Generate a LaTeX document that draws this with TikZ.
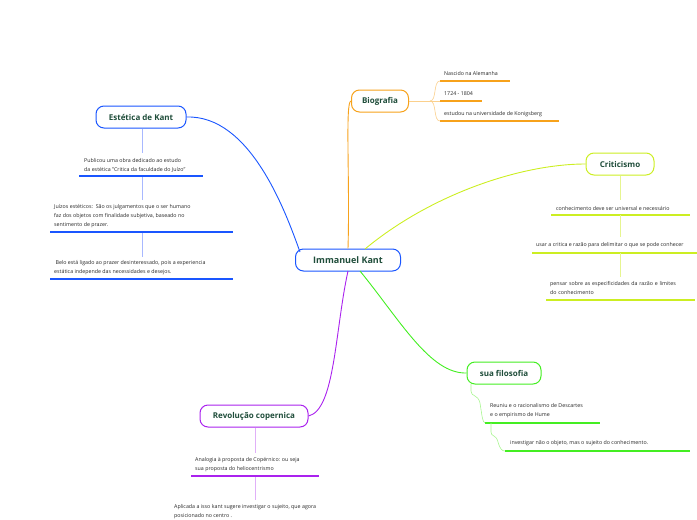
\documentclass[tikz,border=0pt]{standalone}
\usepackage{fontspec}
\setmainfont{Open Sans}
\begin{document}
\begin{tikzpicture}[x=1pt,y=-1pt,
 topic/.style={draw=#1,line width=1pt,rounded corners=8pt,fill=white,minimum height=22pt,font=\fontsize{8}{9}\selectfont\bfseries,text=titc,inner xsep=10pt},
 leaf/.style={anchor=west,font=\fontsize{5.3}{9}\selectfont,align=left,inner sep=0pt,text=black!85},
 ul/.style={draw=#1,line width=1.2pt},
 br/.style={draw=#1,line width=0.6pt}]
\definecolor{titc}{HTML}{1F4D3A}
\definecolor{cb}{HTML}{1A56FF}\definecolor{cbl}{HTML}{A8B8FF}
\definecolor{co}{HTML}{F7A21B}\definecolor{col}{HTML}{FBD08C}
\definecolor{cy}{HTML}{CCEE22}\definecolor{cyl}{HTML}{E6F590}
\definecolor{cg}{HTML}{44EE22}\definecolor{cgl}{HTML}{A8F590}
\definecolor{cp}{HTML}{AA22EE}\definecolor{cpl}{HTML}{E0B0F8}
\useasboundingbox (0,0) rectangle (697,520);
% central
\node[topic=cb,minimum width=105pt,font=\fontsize{9}{10}\selectfont\bfseries] (c) at (348,260) {Immanuel Kant};
\node[topic=co,minimum width=57pt] (bio) at (380,101) {Biografia};
\node[topic=cy,minimum width=68pt] (cri) at (620,164) {Criticismo};
\node[topic=cg,minimum width=74pt] (fil) at (504,373) {sua filosofia};
\node[topic=cp,minimum width=108pt] (rev) at (254,416) {Revolução copernica};
\node[topic=cb,minimum width=90pt] (est) at (141,117) {Estética de Kant};
\begin{scope}[on background layer/.try]
\end{scope}
\draw[co,line width=0.9pt] (c.north) ++(0,0) .. controls (350,180) and (345,101) .. (bio.west);
\draw[cy,line width=0.9pt] (365,249) .. controls (430,195) and (520,164) .. (cri.west);
\draw[cg,line width=0.9pt] (360,271) .. controls (400,320) and (430,374) .. (fil.west);
\draw[cp,line width=0.9pt] (348,271) .. controls (335,330) and (335,410) .. (rev.east);
\draw[cb,line width=0.9pt] (est.east) .. controls (250,115) and (285,210) .. (300,252);
% Biografia leaves
\node[leaf] (b1) at (444,74) {Nascido na Alemanha};
\node[leaf] (b2) at (444,94) {1724 - 1804};
\node[leaf] (b3) at (444,114) {estudou na universidade de Konigsberg};
\coordinate (b1u) at (440,81);\coordinate (b2u) at (440,101);\coordinate (b3u) at (440,121);
\draw[ul=co] (b1u) -- (510,81); \draw[ul=co] (b2u) -- (482,101); \draw[ul=co] (b3u) -- (559,121);
\coordinate (bj) at (430,101);
\draw[br=col] (bio.east) -- (bj);
\draw[br=col] (bj) .. controls (437,101) and (433,81) .. (b1u);
\draw[br=col] (bj) -- (b2u);
\draw[br=col] (bj) .. controls (437,101) and (433,121) .. (b3u);
% Criticismo leaves
\node[leaf] (k1) at (556,208) {conhecimento deve ser universal e necessário};
\node[leaf] (k2) at (536,245) {usar a critica e razão para delimitar o que se pode conhecer};
\node[leaf,text width=150pt] (k3) at (550,288) {pensar sobre as especificidades da razão e limites\\do conhecimento};
\draw[ul=cy] (551,215) -- (690,215);
\draw[ul=cy] (532,253) -- (697,253);
\draw[ul=cy] (546,300) -- (695,300);
\draw[br=cyl] (cri.south) -- (620,200);
\draw[br=cyl] (620,215) -- (620,237);
\draw[br=cyl] (620,253) -- (620,277);
% filosofia leaves
\node[leaf] (f1) at (490,411) {Reuniu e o racionalismo de Descartes\\e o empirismo de Hume};
\node[leaf] (f2) at (510,443) {investigar não o objeto, mas o sujeito do conhecimento.};
\coordinate (f1u) at (485,423);\coordinate (f2u) at (505,451);
\draw[ul=cg] (f1u) -- (600,423);
\draw[ul=cg] (f2u) -- (690,451);
\draw[br=cgl] (471,384) -- (471,391) .. controls (471,397) and (478,394) .. (480,403) -- (482,416) .. controls (483,421) and (484,423) .. (f1u);
\draw[br=cgl] (491,423) -- (491,432) .. controls (491,437) and (496,434) .. (498,442) .. controls (500,449) and (502,451) .. (f2u);
% Revolucao leaves
\node[leaf] (r1) at (195,465) {Analogia à proposta de Copérnico: ou seja\\sua proposta do heliocentrismo};
\node[leaf] (r2) at (174,512) {Aplicada a isso kant sugere investigar o sujeito, que agora\\posicionado no centro .};
\draw[ul=cp] (191,476) -- (319,476);
\draw[br=cpl] (rev.south -| 255,0) -- (255,453);
\draw[br=cpl] (255,477) -- (255,500);
% Estetica leaves
\node[leaf] (e1) at (84,165) {Publicou uma obra dedicado ao estudo\\da estética "Critica da faculdade do Juízo"};
\node[leaf] (e2) at (54,216) {Juízos estéticos:\ \ São os julgamentos que o ser humano\\faz dos objetos com finalidade subjetiva, baseado no\\sentimento de prazer.};
\node[leaf] (e3) at (54,268) {\ Belo está ligado ao prazer desinteressado, pois a experiencia\\estática independe das necessidades e desejos.};
\draw[ul=cb] (79,176) -- (203,176);
\draw[ul=cb] (50,232) -- (233,232);
\draw[ul=cb] (50,279) -- (233,279);
\draw[br=cbl] (est.south -| 142,0) -- (142,153);
\draw[br=cbl] (142,177) -- (142,200);
\draw[br=cbl] (142,233) -- (142,257);
\end{tikzpicture}
\end{document}
